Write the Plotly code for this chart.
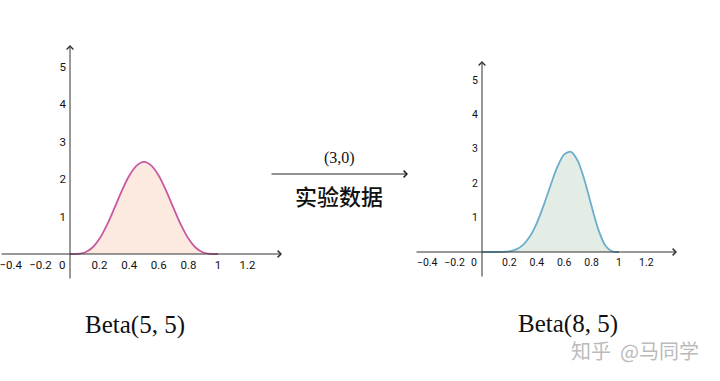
import plotly.graph_objects as go

# ---------------- data ----------------
x_vals = [0.0, 0.05, 0.1, 0.15, 0.2, 0.25, 0.3, 0.35, 0.4, 0.45, 0.5,
          0.55, 0.6, 0.65, 0.7, 0.75, 0.8, 0.85, 0.9, 0.95, 1.0]
beta55 = [0.0, 0.003, 0.041, 0.167, 0.413, 0.779, 1.225, 1.688, 2.090, 2.364, 2.461,
          2.364, 2.090, 1.688, 1.225, 0.779, 0.413, 0.167, 0.041, 0.003, 0.0]
beta85 = [0.0, 0.0, 0.0003, 0.0035, 0.021, 0.077, 0.208, 0.455, 0.841, 1.354, 1.934,
          2.472, 2.838, 2.913, 2.642, 2.065, 1.329, 0.643, 0.189, 0.017, 0.0]

x_ticks = [-0.4, -0.2, 0.2, 0.4, 0.6, 0.8, 1, 1.2]
x_tick_text = ["−0.4", "−0.2", "0.2", "0.4", "0.6", "0.8", "1", "1.2"]
y_ticks = [1, 2, 3, 4, 5]
y_tick_text = ["1", "2", "3", "4", "5"]

left_title = "Beta(5, 5)"
right_title = "Beta(8, 5)"
arrow_top = "(3,0)"
arrow_bottom = "实验数据"
watermark = "知乎\u00a0\u00a0@马同学"

# ---------------- layout geometry ----------------
W, H = 720, 381

def py(p):  # screen pixel y -> paper
    return 1 - p / H

def px(p):
    return p / W

# left panel: origin at pixel (70, 254), 148 px/unit x, 37.4 px/unit y
L = dict(dom_x=(0, 290), dom_y=(40, 290), ox=70, oy=254, sx=148, sy=37.4)
# right panel: origin at pixel (482, 252), 137 px/unit x, 34.4 px/unit y
R = dict(dom_x=(410, 690), dom_y=(50, 290), ox=482, oy=252, sx=137, sy=34.4)

def ranges(P):
    x0 = (P["dom_x"][0] - P["ox"]) / P["sx"]
    x1 = (P["dom_x"][1] - P["ox"]) / P["sx"]
    y1 = (P["oy"] - P["dom_y"][0]) / P["sy"]
    y0 = (P["oy"] - P["dom_y"][1]) / P["sy"]
    return [x0, x1], [y0, y1]

Lxr, Lyr = ranges(L)
Rxr, Ryr = ranges(R)

fig = go.Figure()

def add_curve(ys, xa, ya, line_color, fill_color):
    fig.add_trace(go.Scatter(
        x=x_vals, y=ys, xaxis=xa, yaxis=ya, mode="lines",
        line=dict(color=line_color, width=1.8, shape="spline", smoothing=0.8),
        fill="tozeroy", fillcolor=fill_color, hoverinfo="skip", showlegend=False,
        cliponaxis=False,
    ))

add_curve(beta55, "x", "y", "#C85AA0", "rgba(252,231,219,0.9)")
add_curve(beta85, "x2", "y2", "#6AAECC", "rgba(225,235,228,0.95)")

tick_font = dict(family="Roboto, Arial, sans-serif", size=11.5, color="#111111")

def axis_pair(P, xr, yr, fsize):
    xaxis = dict(
        domain=[px(P["dom_x"][0]), px(P["dom_x"][1])], range=xr,
        anchor="free", position=py(P["oy"]),
        showgrid=False, zeroline=False, showline=False, ticks="",
        tickvals=x_ticks, ticktext=x_tick_text, ticklabelstandoff=2,
        ticklabeloverflow="allow",
        tickfont=dict(tick_font, size=fsize), fixedrange=True,
    )
    yaxis = dict(
        domain=[py(P["dom_y"][1]), py(P["dom_y"][0])], range=yr,
        anchor="free", position=px(P["ox"]),
        showgrid=False, zeroline=False, showline=False, ticks="",
        tickvals=y_ticks, ticktext=y_tick_text, ticklabelstandoff=4,
        tickfont=dict(tick_font, size=fsize), fixedrange=True,
    )
    return xaxis, yaxis

xa1, ya1 = axis_pair(L, Lxr, Lyr, 11.5)
xa2, ya2 = axis_pair(R, Rxr, Ryr, 10.5)

annotations = []

def axis_arrows(xref, yref, xlo, xhi, ylo, yhi):
    annotations.append(dict(x=xhi, y=0, ax=xlo, ay=0, xref=xref, yref=yref,
                            axref=xref, ayref=yref, showarrow=True, text="",
                            arrowhead=4, arrowsize=1.3, arrowwidth=1, arrowcolor="#333333"))
    annotations.append(dict(x=0, y=yhi, ax=0, ay=ylo, xref=xref, yref=yref,
                            axref=xref, ayref=yref, showarrow=True, text="",
                            arrowhead=4, arrowsize=1.3, arrowwidth=1, arrowcolor="#333333"))

axis_arrows("x", "y", (0 - L["ox"]) / L["sx"], (282 - L["ox"]) / L["sx"],
            -(280 - L["oy"]) / L["sy"], (L["oy"] - 45) / L["sy"])
axis_arrows("x2", "y2", (415 - R["ox"]) / R["sx"], (677 - R["ox"]) / R["sx"],
            -(278 - R["oy"]) / R["sy"], (R["oy"] - 61) / R["sy"])

# "0" labels at the origins
annotations.append(dict(x=0, y=0, xref="x", yref="y", text="0", showarrow=False,
                        xanchor="right", yanchor="top", xshift=-3, yshift=-2,
                        font=dict(tick_font, size=11.5)))
annotations.append(dict(x=0, y=0, xref="x2", yref="y2", text="0", showarrow=False,
                        xanchor="right", yanchor="top", xshift=-3, yshift=-2,
                        font=dict(tick_font, size=10.5)))

def label(xp, yp, text, family, size, color="#111111", weight="normal"):
    annotations.append(dict(x=px(xp), y=py(yp), xref="paper", yref="paper", text=text,
                            xanchor="center", yanchor="middle", showarrow=False,
                            font=dict(family=family, size=size, color=color, weight=weight)))

label(135, 325, left_title, "Liberation Serif, serif", 25)
label(568, 324, right_title, "Liberation Serif, serif", 25)

# middle arrow (tail offset in pixels)
annotations.append(dict(x=px(408), y=py(174), ax=-138, ay=0, xref="paper", yref="paper",
                        axref="pixel", ayref="pixel", showarrow=True, text="",
                        arrowhead=4, arrowsize=1.3, arrowwidth=1, arrowcolor="#222222"))
label(339, 158, arrow_top, "Liberation Serif, serif", 16)
label(339, 195, arrow_bottom, "Noto Sans CJK SC", 22, weight=500)

# watermark
label(635, 350, watermark, "Noto Sans CJK SC", 20, "#BBBBBB")

fig.update_layout(
    width=W, height=H, margin=dict(l=0, r=0, t=0, b=0),
    paper_bgcolor="white", plot_bgcolor="rgba(0,0,0,0)",
    xaxis=xa1, yaxis=ya1, xaxis2=xa2, yaxis2=ya2,
    annotations=annotations, showlegend=False,
)

fig.write_html("out.html", config={"displayModeBar": False},
               post_script="document.body.style.margin='0';")
